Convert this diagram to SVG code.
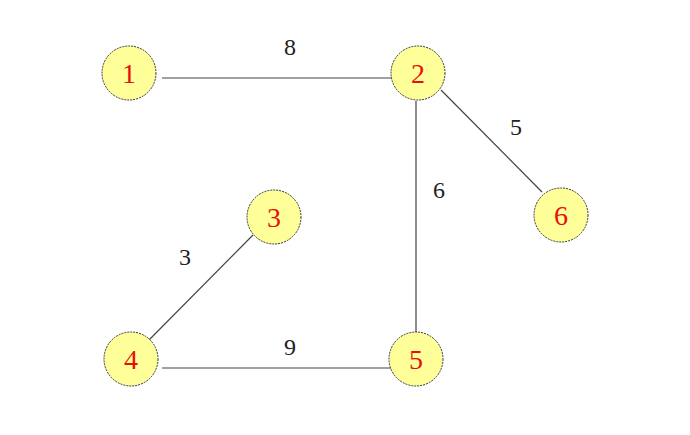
<svg xmlns="http://www.w3.org/2000/svg" width="690" height="435" viewBox="0 0 690 435">
<style>
.n circle{fill:#ffff99;stroke:#333;stroke-width:1;stroke-dasharray:2 1}
.n text{fill:#e8100c;font-family:"Liberation Serif",serif;font-size:28px;text-anchor:middle}
.e line{stroke:#444;stroke-width:1.2}
.l{font-family:"Liberation Serif",serif;font-size:24px;fill:#222;text-anchor:middle}
</style>
<rect width="690" height="435" fill="#fff"/>
<g id="connectors" class="e">
<line x1="162" y1="78" x2="392" y2="78"/>
<line x1="416" y1="101" x2="416" y2="338"/>
<line x1="441" y1="90" x2="542" y2="192"/>
<line x1="253" y1="235" x2="149" y2="340"/>
<line x1="162" y1="368" x2="392" y2="368"/>
</g>
<g class="l">
<text x="290" y="55">8</text>
<text x="516" y="135">5</text>
<text x="439" y="198">6</text>
<text x="185" y="265">3</text>
<text x="290" y="355">9</text>
</g>
<g id="node1" class="n"><circle cx="129" cy="73" r="27"/><text x="129" y="83">1</text></g>
<g id="node2" class="n"><circle cx="418" cy="73" r="27"/><text x="418" y="83">2</text></g>
<g id="node3" class="n"><circle cx="274" cy="217" r="27"/><text x="274" y="227">3</text></g>
<g id="node4" class="n"><circle cx="131" cy="359" r="27"/><text x="131" y="369">4</text></g>
<g id="node5" class="n"><circle cx="416" cy="359" r="27"/><text x="416" y="369">5</text></g>
<g id="node6" class="n"><circle cx="561" cy="215" r="27"/><text x="561" y="225">6</text></g>
</svg>
